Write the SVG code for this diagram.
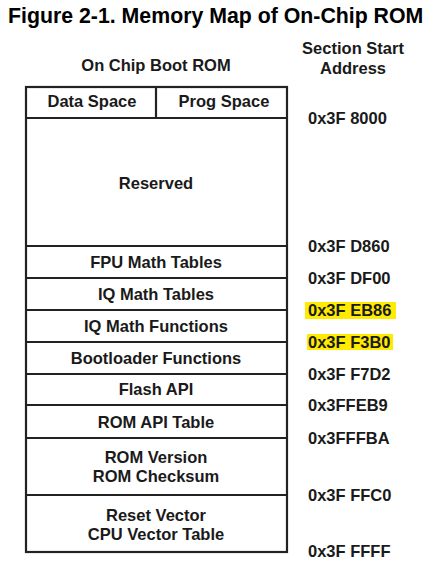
<svg xmlns="http://www.w3.org/2000/svg" width="433" height="564" viewBox="0 0 433 564">
<style>
text{font-family:"Liberation Sans",Arial,sans-serif;font-weight:bold;fill:#1a1a1a}
.t{font-size:21.3px;fill:#000}
.c{font-size:16.5px;text-anchor:middle}
.a{font-size:16.5px}
.box{fill:#fff;stroke:#222;stroke-width:2.2}
.hl{fill:#ffeb00}
</style>
<rect width="433" height="564" fill="#fff"/>
<text class="t" x="8" y="23">Figure 2-1. Memory Map of On-Chip ROM</text>
<text class="c" x="156" y="71">On Chip Boot ROM</text>
<text class="c" x="353" y="54">Section Start</text>
<text class="c" x="353" y="74">Address</text>
<g id="connectors">
<rect class="box" x="26" y="87" width="261" height="465"/>
<line class="box" x1="26" y1="118" x2="287" y2="118"/>
<line class="box" x1="156" y1="87" x2="156" y2="118"/>
<line class="box" x1="26" y1="246" x2="287" y2="246"/>
<line class="box" x1="26" y1="278" x2="287" y2="278"/>
<line class="box" x1="26" y1="310" x2="287" y2="310"/>
<line class="box" x1="26" y1="342" x2="287" y2="342"/>
<line class="box" x1="26" y1="374" x2="287" y2="374"/>
<line class="box" x1="26" y1="405" x2="287" y2="405"/>
<line class="box" x1="26" y1="438" x2="287" y2="438"/>
<line class="box" x1="26" y1="495" x2="287" y2="495"/>
</g>
<g id="data-space"><text class="c" x="92" y="107">Data Space</text></g>
<g id="prog-space"><text class="c" x="224" y="107">Prog Space</text></g>
<g id="reserved"><text class="c" x="156" y="189">Reserved</text></g>
<g id="fpu"><text class="c" x="156" y="268">FPU Math Tables</text></g>
<g id="iq-tables"><text class="c" x="156" y="300">IQ Math Tables</text></g>
<g id="iq-functions"><text class="c" x="156" y="332">IQ Math Functions</text></g>
<g id="bootloader"><text class="c" x="156" y="364">Bootloader Functions</text></g>
<g id="flash-api"><text class="c" x="156" y="395">Flash API</text></g>
<g id="rom-api"><text class="c" x="156" y="428">ROM API Table</text></g>
<g id="rom-version"><text class="c" x="156" y="463">ROM Version</text><text class="c" x="156" y="482">ROM Checksum</text></g>
<g id="reset-vector"><text class="c" x="156" y="521">Reset Vector</text><text class="c" x="156" y="540">CPU Vector Table</text></g>
<g id="addresses">
<rect class="hl" x="305" y="302" width="91" height="17"/>
<rect class="hl" x="307" y="334" width="86" height="16"/>
<text class="a" x="308" y="124">0x3F 8000</text>
<text class="a" x="308" y="252">0x3F D860</text>
<text class="a" x="308" y="284">0x3F DF00</text>
<text class="a" x="308" y="316">0x3F EB86</text>
<text class="a" x="308" y="348">0x3F F3B0</text>
<text class="a" x="308" y="380">0x3F F7D2</text>
<text class="a" x="308" y="411">0x3FFEB9</text>
<text class="a" x="308" y="444">0x3FFFBA</text>
<text class="a" x="308" y="501">0x3F FFC0</text>
<text class="a" x="308" y="557">0x3F FFFF</text>
</g>
</svg>
